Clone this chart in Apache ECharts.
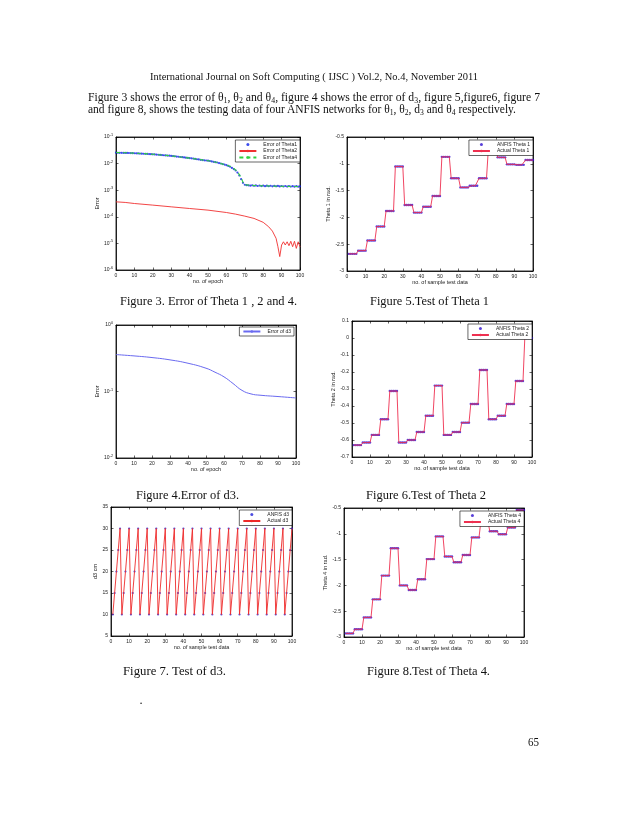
<!DOCTYPE html>
<html><head><meta charset="utf-8">
<script src="https://cdn.jsdelivr.net/npm/echarts/dist/echarts.min.js"></script>
<style>
html,body{margin:0;padding:0;background:#fff;}
#wrap{position:relative;width:638px;height:826px;overflow:hidden;}
#chart{position:absolute;left:0;top:0;width:638px;height:826px;}
#txt{position:absolute;left:0;top:0;pointer-events:none;}
</style></head><body>
<div id="wrap"><div id="chart"></div>
<svg id="txt" width="638" height="826" xmlns="http://www.w3.org/2000/svg" font-family="'Liberation Serif','Times New Roman',serif" fill="#111">
<text x="150" y="80" font-size="10.5" textLength="328" lengthAdjust="spacingAndGlyphs">International Journal on Soft Computing ( IJSC ) Vol.2, No.4, November 2011</text>
<text x="88" y="100.5" font-size="12" textLength="452" lengthAdjust="spacingAndGlyphs">Figure 3 shows the error of θ<tspan font-size="8" dy="2">1</tspan><tspan dy="-2">, θ</tspan><tspan font-size="8" dy="2">2</tspan><tspan dy="-2"> and θ</tspan><tspan font-size="8" dy="2">4</tspan><tspan dy="-2">, figure 4 shows the error of d</tspan><tspan font-size="8" dy="2">3</tspan><tspan dy="-2">, figure 5,figure6, figure 7</tspan></text>
<text x="88" y="113" font-size="12" textLength="428" lengthAdjust="spacingAndGlyphs">and figure 8, shows the testing data of four ANFIS networks for θ<tspan font-size="8" dy="2">1</tspan><tspan dy="-2">, θ</tspan><tspan font-size="8" dy="2">2</tspan><tspan dy="-2">, d</tspan><tspan font-size="8" dy="2">3</tspan><tspan dy="-2"> and θ</tspan><tspan font-size="8" dy="2">4</tspan><tspan dy="-2"> respectively.</tspan></text>
<text x="120" y="305" font-size="12.5" textLength="177" lengthAdjust="spacingAndGlyphs">Figure 3. Error of Theta 1 , 2 and 4.</text>
<text x="370" y="305" font-size="12.5" textLength="119" lengthAdjust="spacingAndGlyphs">Figure 5.Test of Theta 1</text>
<text x="136" y="499" font-size="12.5" textLength="103" lengthAdjust="spacingAndGlyphs">Figure 4.Error of d3.</text>
<text x="366" y="499" font-size="12.5" textLength="120" lengthAdjust="spacingAndGlyphs">Figure 6.Test of Theta 2</text>
<text x="123" y="675" font-size="12.5" textLength="103" lengthAdjust="spacingAndGlyphs">Figure 7. Test of d3.</text>
<text x="367" y="675" font-size="12.5" textLength="123" lengthAdjust="spacingAndGlyphs">Figure 8.Test of Theta 4.</text>
<text x="139.5" y="704" font-size="12.5">.</text>
<text x="528" y="746" font-size="12.5" textLength="11" lengthAdjust="spacingAndGlyphs">65</text>
</svg>
</div>
<script>
// ---------------- DATA ----------------
// Figure 3: training error per epoch (epoch = index 0..100)
const errTheta1 = [
0.0257,0.0256,0.0255,0.0254,0.0253,0.0252,0.0251,0.0250,0.0248,0.0247,
0.0245,0.0243,0.0241,0.0239,0.0237,0.0235,0.0233,0.0231,0.0228,0.0226,
0.0224,0.0221,0.0218,0.0215,0.0212,0.0209,0.0206,0.0203,0.0200,0.0198,
0.0195,0.0191,0.0188,0.0184,0.0181,0.0177,0.0174,0.0170,0.0167,0.0165,
0.0162,0.0158,0.0154,0.0150,0.0146,0.0143,0.0139,0.0136,0.0133,0.0131,
0.0129,0.0125,0.0121,0.0117,0.0113,0.0110,0.0105,0.0101,0.0096,0.0092,
0.0087,0.0082,0.0076,0.0069,0.0062,0.0055,0.0046,0.0036,0.0026,0.0019,
0.0016,0.00155,0.00152,0.00148,0.00153,0.00146,0.00151,0.00144,0.0015,0.00143,
0.00149,0.00142,0.00148,0.00141,0.00147,0.0014,0.00146,0.0014,0.00145,0.00139,
0.00144,0.00138,0.00144,0.00137,0.00143,0.00137,0.00142,0.00136,0.00142,0.00136,
0.0014];
const errTheta2Epoch = [0,5,10,20,30,40,50,60,65,70,75,80,83,85,87,88,89,90,91,92,93,94,95,96,97,98,99,100];
const errTheta2 = [3.65e-4,3.47e-4,3.16e-4,2.75e-4,2.37e-4,2.05e-4,1.78e-4,1.45e-4,1.26e-4,1.06e-4,8.7e-5,6.2e-5,4.2e-5,2.9e-5,1.55e-5,7.5e-6,3.2e-6,8.7e-6,1.15e-5,8.7e-6,1.15e-5,8.2e-6,1.2e-5,7.5e-6,1.2e-5,6.5e-6,1.15e-5,7.5e-6];
const errTheta4Epoch = [0,5,10,15,20,25,30,35,40,45,50,55,60,62,64,66,68,69,70,72,75,80,85,90,95,100];
const errTheta4 = [0.0262,0.0256,0.0248,0.0237,0.0225,0.0210,0.0195,0.0178,0.0161,0.0144,0.0128,0.0110,0.0088,0.0079,0.0066,0.0050,0.0030,0.0020,0.0016,0.00155,0.0015,0.00146,0.00143,0.0014,0.00138,0.00137];

// Figure 4: training error of d3
const errD3Epoch = [0,10,20,30,40,50,55,60,65,70,75,80,90,100];
const errD3 = [0.359,0.343,0.324,0.299,0.266,0.224,0.195,0.166,0.132,0.104,0.092,0.088,0.084,0.080];

// Test data, sample number = index + 1 (1..100)
const testTheta1 = [
-2.68,-2.68,-2.68,-2.68,-2.68, -2.62,-2.62,-2.62,-2.62,-2.62,
-2.43,-2.43,-2.43,-2.43,-2.43, -2.17,-2.17,-2.17,-2.17,-2.17,
-1.88,-1.88,-1.88,-1.88,-1.88, -1.05,-1.05,-1.05,-1.05,-1.05,
-1.77,-1.77,-1.77,-1.77,-1.77, -1.91,-1.91,-1.91,-1.91,-1.91,
-1.80,-1.80,-1.80,-1.80,-1.80, -1.60,-1.60,-1.60,-1.60,-1.60,
-0.87,-0.87,-0.87,-0.87,-0.87, -1.27,-1.27,-1.27,-1.27,-1.27,
-1.44,-1.44,-1.44,-1.44,-1.44, -1.41,-1.41,-1.41,-1.41,-1.41,
-1.27,-1.27,-1.27,-1.27,-1.27, -0.72,-0.72,-0.72,-0.72,-0.72,
-0.88,-0.88,-0.88,-0.88,-0.88, -1.01,-1.01,-1.01,-1.01,-1.01,
-1.02,-1.02,-1.02,-1.02,-1.02, -0.93,-0.93,-0.93,-0.93,-0.93];
const testTheta2 = [
-0.63,-0.63,-0.63,-0.63,-0.63, -0.615,-0.615,-0.615,-0.615,-0.615,
-0.57,-0.57,-0.57,-0.57,-0.57, -0.478,-0.478,-0.478,-0.478,-0.478,
-0.312,-0.312,-0.312,-0.312,-0.312, -0.615,-0.615,-0.615,-0.615,-0.615,
-0.60,-0.60,-0.60,-0.60,-0.60, -0.553,-0.553,-0.553,-0.553,-0.553,
-0.457,-0.457,-0.457,-0.457,-0.457, -0.28,-0.28,-0.28,-0.28,-0.28,
-0.57,-0.57,-0.57,-0.57,-0.57, -0.553,-0.553,-0.553,-0.553,-0.553,
-0.498,-0.498,-0.498,-0.498,-0.498, -0.388,-0.388,-0.388,-0.388,-0.388,
-0.188,-0.188,-0.188,-0.188,-0.188, -0.478,-0.478,-0.478,-0.478,-0.478,
-0.457,-0.457,-0.457,-0.457,-0.457, -0.388,-0.388,-0.388,-0.388,-0.388,
-0.253,-0.253,-0.253,-0.253,-0.253, 0.0,0.0,0.0,0.0,0.0];
const testD3 = [
10,15,20,25,30, 10,15,20,25,30, 10,15,20,25,30, 10,15,20,25,30,
10,15,20,25,30, 10,15,20,25,30, 10,15,20,25,30, 10,15,20,25,30,
10,15,20,25,30, 10,15,20,25,30, 10,15,20,25,30, 10,15,20,25,30,
10,15,20,25,30, 10,15,20,25,30, 10,15,20,25,30, 10,15,20,25,30,
10,15,20,25,30, 10,15,20,25,30, 10,15,20,25,30, 10,15,20,25,30];
const testTheta4 = [
-2.93,-2.93,-2.93,-2.93,-2.93, -2.85,-2.85,-2.85,-2.85,-2.85,
-2.62,-2.62,-2.62,-2.62,-2.62, -2.27,-2.27,-2.27,-2.27,-2.27,
-1.81,-1.81,-1.81,-1.81,-1.81, -1.28,-1.28,-1.28,-1.28,-1.28,
-2.00,-2.00,-2.00,-2.00,-2.00, -2.09,-2.09,-2.09,-2.09,-2.09,
-1.88,-1.88,-1.88,-1.88,-1.88, -1.49,-1.49,-1.49,-1.49,-1.49,
-1.05,-1.05,-1.05,-1.05,-1.05, -1.44,-1.44,-1.44,-1.44,-1.44,
-1.55,-1.55,-1.55,-1.55,-1.55, -1.41,-1.41,-1.41,-1.41,-1.41,
-1.07,-1.07,-1.07,-1.07,-1.07, -0.77,-0.77,-0.77,-0.77,-0.77,
-0.95,-0.95,-0.95,-0.95,-0.95, -1.01,-1.01,-1.01,-1.01,-1.01,
-0.88,-0.88,-0.88,-0.88,-0.88, -0.54,-0.54,-0.54,-0.54,-0.54];

// ---------------- CHART ----------------
const FONT = "'Liberation Sans', Arial, sans-serif";
const grids = [], xAxes = [], yAxes = [], series = [], legends = [];
const pairs = (xs, ys) => ys.map((v, i) => [xs[i], v]);
const byIndex = (ys, off) => ys.map((v, i) => [i + off, v]);
const logFmt = v => '10{e|' + Math.round(Math.log10(v)) + '}';

function addPanel(p) {
  const gi = grids.length;
  grids.push({left: p.box[0], top: p.box[1], width: p.box[2] - p.box[0], height: p.box[3] - p.box[1],
    show: true, borderColor: '#000', borderWidth: 0.8, backgroundColor: '#fff', containLabel: false});
  const axLine = {show: true, onZero: false, lineStyle: {color: '#000', width: 0.8}};
  const tick = {show: true, inside: true, length: 2.5, lineStyle: {color: '#000', width: 0.6}};
  const lab = {fontSize: 5, color: '#222', fontFamily: FONT, margin: 3};
  const nts = {fontSize: 5.5, color: '#222', fontFamily: FONT};
  const xBase = {type: 'value', min: 0, max: 100, interval: 10};
  const xi = xAxes.length;
  xAxes.push(Object.assign({}, xBase, {gridIndex: gi, position: 'bottom', axisLine: axLine, axisTick: tick,
    axisLabel: lab, splitLine: {show: false}, name: p.xName, nameLocation: 'middle', nameGap: 8, nameTextStyle: nts}));
  xAxes.push(Object.assign({}, xBase, {gridIndex: gi, position: 'top', axisLine: axLine, axisTick: tick,
    axisLabel: {show: false}, splitLine: {show: false}}));
  const yBase = p.y.log ? {type: 'log', logBase: 10, min: p.y.min, max: p.y.max}
                        : {type: 'value', min: p.y.min, max: p.y.max, interval: p.y.interval};
  const yLab = Object.assign({}, lab, p.y.log ? {formatter: logFmt, rich: {e: {fontSize: 3.8, padding: [0, 0, 4, 0], color: '#222', fontFamily: FONT}}} : {});
  const yi = yAxes.length;
  yAxes.push(Object.assign({}, yBase, {gridIndex: gi, position: 'left', axisLine: axLine, axisTick: tick,
    axisLabel: yLab, splitLine: {show: false}, name: p.yName, nameLocation: 'middle', nameGap: p.yGap,
    nameRotate: 90, nameTextStyle: nts}));
  yAxes.push(Object.assign({}, yBase, {gridIndex: gi, position: 'right', axisLine: axLine, axisTick: tick,
    axisLabel: {show: false}, splitLine: {show: false}}));
  p.series.forEach(s => series.push(Object.assign({xAxisIndex: xi, yAxisIndex: yi, animation: false, silent: true}, s)));
  legends.push({
    data: p.series.map(s => s.name), orient: 'vertical', right: 638 - p.legend[0], top: p.legend[1],
    backgroundColor: '#fff', borderColor: '#000', borderWidth: 0.6, padding: [2, 3, 2, 3], itemGap: 1.5,
    itemWidth: 17, itemHeight: 3, selectedMode: false,
    textStyle: {fontSize: 5, color: '#222', fontFamily: FONT, padding: [0, 0, 0, 2]}
  });
}

const dotSeries = (name, data, color, size) => ({name, type: 'scatter', data, symbol: 'circle', symbolSize: size, itemStyle: {color}});
const lineSeries = (name, data, color, extra) => Object.assign({name, type: 'line', data, symbol: 'none',
  lineStyle: {color, width: 0.9}, itemStyle: {color}}, extra || {});

// Figure 3
addPanel({box: [116, 137, 300, 270], xName: 'no. of epoch', yName: 'Error', yGap: 16,
  y: {log: true, min: 1e-6, max: 1e-1}, legend: [300, 140],
  series: [
    dotSeries('Error of Theta1', byIndex(errTheta1, 0), '#0a1ee8', 2.2),
    lineSeries('Error of Theta2', pairs(errTheta2Epoch, errTheta2), '#f03030'),
    lineSeries('Error of Theta4', pairs(errTheta4Epoch, errTheta4), '#30d040', {lineStyle: {color: '#30d040', width: 1.1, type: [4, 3]}})
  ]});
// Figure 5
addPanel({box: [347, 137, 533, 271], xName: 'no. of sample test data', yName: 'Theta 1 in rad.', yGap: 14,
  y: {min: -3, max: -0.5, interval: 0.5}, legend: [533, 140],
  series: [
    dotSeries('ANFIS Theta 1', byIndex(testTheta1, 1), '#3010d0', 2.4),
    lineSeries('Actual Theta 1', byIndex(testTheta1, 1), '#ee3050')
  ]});
// Figure 4
addPanel({box: [116, 325, 296, 458], xName: 'no. of epoch', yName: 'Error', yGap: 14,
  y: {log: true, min: 1e-2, max: 1}, legend: [294, 327],
  series: [
    lineSeries('Error of d3', pairs(errD3Epoch, errD3), '#6a6af0', {smooth: true, lineStyle: {color: '#6a6af0', width: 1}})
  ]});
// Figure 6
addPanel({box: [352, 321, 532, 457], xName: 'no. of sample test data', yName: 'Theta 2 in rad.', yGap: 14,
  y: {min: -0.7, max: 0.1, interval: 0.1}, legend: [532, 324],
  series: [
    dotSeries('ANFIS Theta 2', byIndex(testTheta2, 1), '#3010d0', 2.4),
    lineSeries('Actual Theta 2', byIndex(testTheta2, 1), '#ee3050')
  ]});
// Figure 7
addPanel({box: [111, 507, 292, 636], xName: 'no. of sample test data', yName: 'd3 cm', yGap: 9,
  y: {min: 5, max: 35, interval: 5}, legend: [292, 510],
  series: [
    dotSeries('ANFIS d3', byIndex(testD3, 1), '#2020d8', 2.2),
    lineSeries('Actual d3', byIndex(testD3, 1), '#ee2a2a')
  ]});
// Figure 8
addPanel({box: [344, 508, 524, 637], xName: 'no. of sample test data', yName: 'Theta 4 in rad.', yGap: 14,
  y: {min: -3, max: -0.5, interval: 0.5}, legend: [524, 511],
  series: [
    dotSeries('ANFIS Theta 4', byIndex(testTheta4, 1), '#3010d0', 2.4),
    lineSeries('Actual Theta 4', byIndex(testTheta4, 1), '#ee3050')
  ]});

const chart = echarts.init(document.getElementById('chart'), null, {renderer: 'canvas'});
chart.setOption({backgroundColor: '#fff', animation: false, grid: grids, xAxis: xAxes, yAxis: yAxes, series, legend: legends});
</script>
</body></html>
